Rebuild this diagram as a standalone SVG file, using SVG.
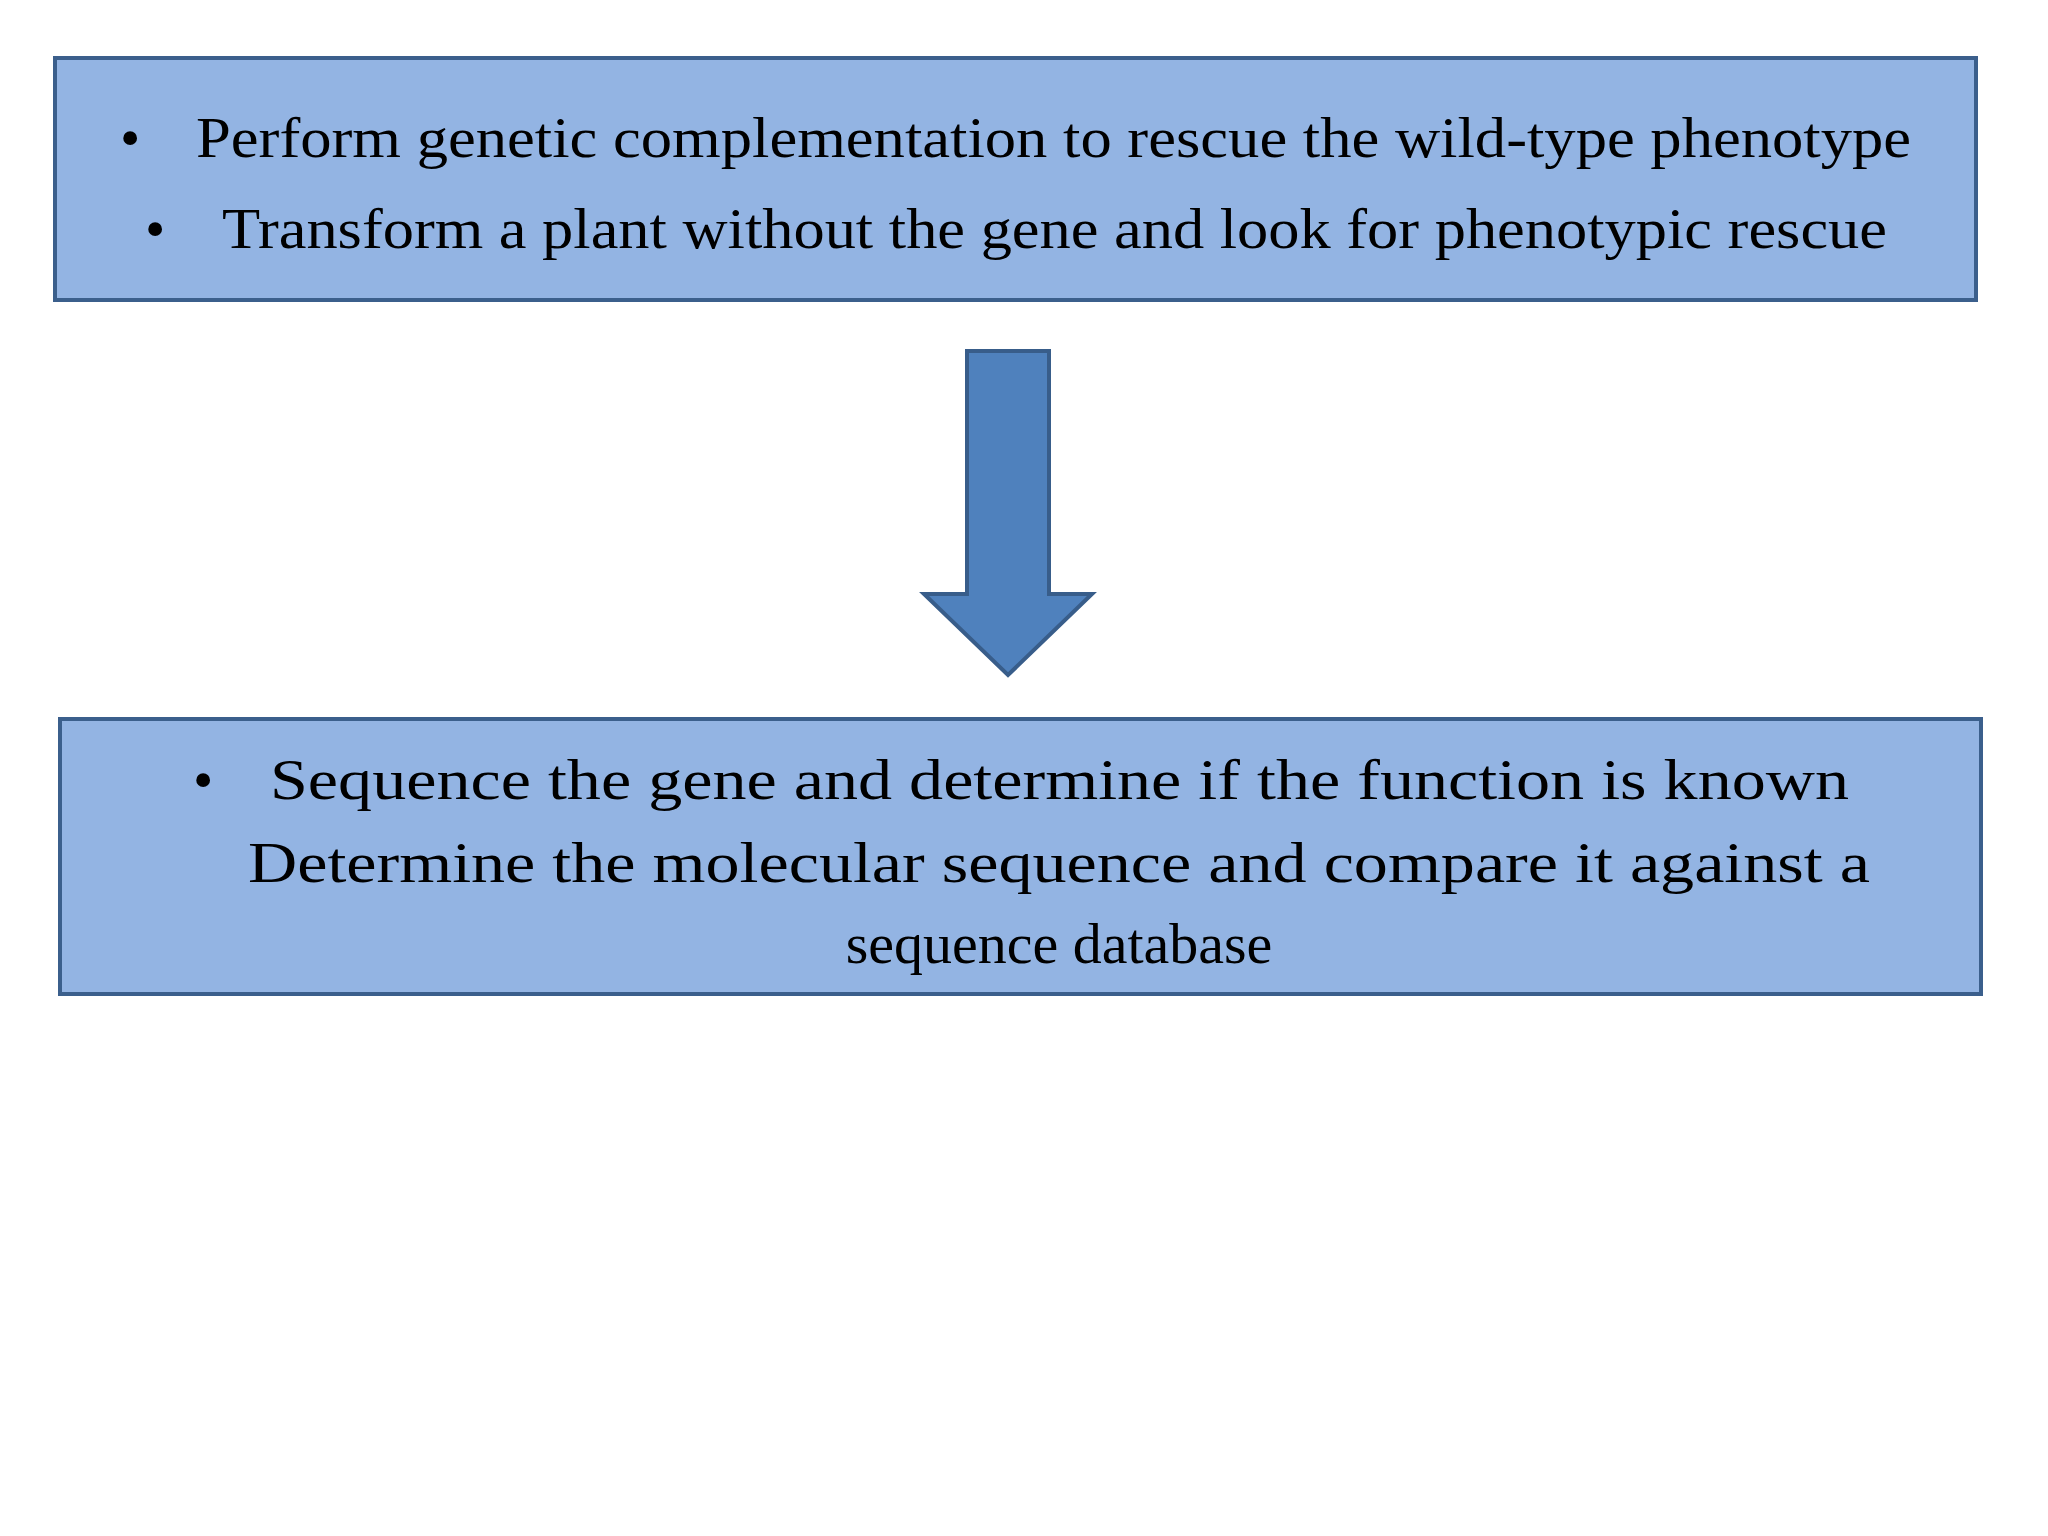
<svg xmlns="http://www.w3.org/2000/svg" width="2048" height="1536" viewBox="0 0 2048 1536">
<style>
.box{fill:#93B4E3;stroke:#3B5F8C;stroke-width:4}
text{font-family:"Liberation Serif","Times New Roman",serif;font-size:58px;fill:#000}
</style>
<rect width="2048" height="1536" fill="#fff"/>
<g id="top">
<rect class="box" x="55" y="58" width="1921" height="242"/>
<text x="120" y="157">•</text>
<text x="196" y="157" textLength="1715" lengthAdjust="spacingAndGlyphs">Perform genetic complementation to rescue the wild-type phenotype</text>
<text x="145" y="248">•</text>
<text x="222" y="248" textLength="1665" lengthAdjust="spacingAndGlyphs">Transform a plant without the gene and look for phenotypic rescue</text>
</g>
<g id="connectors">
<path d="M967 351 H1049 V594 H1092 L1008 675 L924 594 H967 Z" fill="#4F81BD" stroke="#385D8A" stroke-width="4"/>
</g>
<g id="bottom">
<rect class="box" x="60" y="719" width="1921" height="275"/>
<text x="193" y="799">•</text>
<text x="270" y="799" textLength="1579" lengthAdjust="spacingAndGlyphs">Sequence the gene and determine if the function is known</text>
<text x="248" y="882" textLength="1622" lengthAdjust="spacingAndGlyphs">Determine the molecular sequence and compare it against a</text>
<text x="1059" y="963" text-anchor="middle">sequence database</text>
</g>
</svg>
